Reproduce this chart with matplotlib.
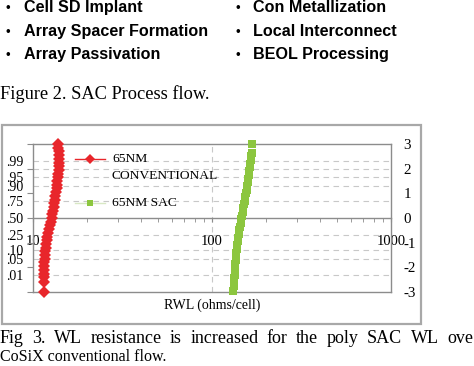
import matplotlib
matplotlib.use("Agg")
import matplotlib.pyplot as plt
from matplotlib.patches import Rectangle
import matplotlib.ticker as mticker

W, H = 474, 366

# ---------------- data ----------------
bullets_left = ["Cell SD Implant", "Array Spacer Formation", "Array Passivation"]
bullets_right = ["Con Metallization", "Local Interconnect", "BEOL Processing"]
fig2_caption = "Figure 2. SAC Process flow."
fig3_words = ["Fig", "3.", "WL", "resistance", "is", "increased", "for", "the",
              "poly", "SAC", "WL", "ove"]
fig3_line2 = "CoSiX conventional flow."

conv_z = [-3.0, -2.6, -2.4, -2.25, -2.1, -1.95, -1.8, -1.65, -1.5, -1.35, -1.2, -1.05,
          -0.9, -0.75, -0.6, -0.45, -0.3, -0.15, 0.0, 0.15, 0.3, 0.45, 0.6, 0.75, 0.9,
          1.05, 1.2, 1.35, 1.5, 1.65, 1.8, 1.95, 2.1, 2.25, 2.4, 2.55, 2.7, 2.85, 3.0]
conv_r = [11.55, 11.5, 11.45, 11.45, 11.5, 11.5, 11.55, 11.6, 11.65, 11.7, 11.8, 11.85,
          11.95, 12.0, 12.1, 12.25, 12.4, 12.55, 12.7, 12.85, 12.95, 13.05, 13.15, 13.25,
          13.35, 13.45, 13.55, 13.6, 13.7, 13.75, 13.85, 13.9, 13.95, 13.95, 13.95, 13.9,
          13.9, 13.85, 13.85]

sac_z = [-2.95, -2.75, -2.6, -2.45, -2.3, -2.15, -2.0, -1.85, -1.7, -1.55, -1.4, -1.25,
         -1.1, -0.95, -0.8, -0.65, -0.5, -0.35, -0.2, -0.05, 0.1, 0.25, 0.4, 0.55, 0.7,
         0.85, 1.0, 1.15, 1.3, 1.45, 1.6, 1.75, 1.9, 2.05, 2.2, 2.35, 2.5, 2.65, 3.0]
sac_r = [131.5, 132.2, 132.7, 133.2, 133.6, 134.0, 134.5, 135.0, 135.4, 135.9, 136.6,
         137.4, 138.2, 139.2, 140.3, 141.3, 142.3, 143.5, 144.8, 146.0, 147.3, 148.5,
         149.7, 151.0, 152.2, 153.4, 154.6, 155.9, 157.1, 158.3, 159.5, 160.6, 161.7,
         162.8, 163.8, 164.7, 165.5, 166.3, 168.0]

series_labels = ["65NM\nCONVENTIONAL", "65NM SAC"]

z_ticks = [-3, -2, -1, 0, 1, 2, 3]
z_ticklabels = ["-3", "-2", "-1", "0", "1", "2", "3"]
prob_labels = [".99", ".95", ".90", ".75", ".50", ".25", ".10", ".05", ".01"]
prob_z = [2.326, 1.645, 1.282, 0.674, 0.0, -0.674, -1.282, -1.645, -2.326]
grid_z = [2.326, 2.0, 1.645, 1.282, 0.674, -0.674, -1.282, -1.645, -2.326]
x_ticks = [10, 100, 1000]
x_ticklabels = ["10", "100", "1000"]
x_label = "RWL (ohms/cell)"

# ---------------- figure ----------------
fig = plt.figure(figsize=(W / 100, H / 100), dpi=100)
fig.patch.set_facecolor("white")


def fx(x):
    return x / W


def fy(y):
    return 1 - y / H


SANS = ["Liberation Sans", "DejaVu Sans"]
SERIF = ["Liberation Serif", "DejaVu Serif"]

# bullet text
rows_y = [12, 36, 59]
for i, (l, r) in enumerate(zip(bullets_left, bullets_right)):
    y = rows_y[i]
    fig.text(fx(8), fy(y), "\u2022", fontsize=9.5, family=SANS, ha="center", va="baseline")
    fig.text(fx(24), fy(y), l, fontsize=11.6, family=SANS, weight="bold", va="baseline")
    fig.text(fx(238), fy(y), "\u2022", fontsize=9.5, family=SANS, ha="center", va="baseline")
    fig.text(fx(253), fy(y), r, fontsize=11.6, family=SANS, weight="bold", va="baseline")

fig.text(fx(0), fy(99), fig2_caption, fontsize=13.2, family=SERIF, va="baseline")

# outer chart box
fig.patches.append(Rectangle((fx(2), fy(324)), fx(419), 199 / H, transform=fig.transFigure,
                             facecolor="white", edgecolor="#a8a8a8", lw=1.6, zorder=0))

# caption under chart: justified first line
renderer = fig.canvas.get_renderer()
word_texts = [fig.text(0, fy(343), wd, fontsize=13, family=SERIF, va="baseline")
              for wd in fig3_words]
widths = [t.get_window_extent(renderer).width for t in word_texts]
gap = (W - 1 - sum(widths)) / (len(widths) - 1)
xpos = 0.0
for t, wdt in zip(word_texts, widths):
    t.set_x(fx(xpos))
    xpos += wdt + gap
fig.text(fx(0), fy(361), fig3_line2, fontsize=11.5, family=SERIF, va="baseline")

# ---------------- axes ----------------
ax = fig.add_axes([fx(33), fy(292), (391 - 33) / W, (292 - 144) / H])
ax.set_xscale("log")
ax.set_xlim(10, 1000)
ax.set_ylim(-3, 3)
ax.patch.set_visible(False)

spine_c = "#8c8c8c"
grid_c = "#c8c8c8"
for s in ax.spines.values():
    s.set_color(spine_c)
    s.set_linewidth(1.0)
ax.spines["bottom"].set_position(("data", 0))
ax.plot([0, 1], [0, 0], transform=ax.transAxes, color=spine_c, lw=1.0, clip_on=False, zorder=3)

for z in grid_z:
    ax.axhline(z, color=grid_c, lw=0.8, ls=(0, (5, 4)), zorder=0)
ax.axvline(100, color=grid_c, lw=0.8, ls=(0, (5, 4)), zorder=0)

ax.set_xticks(x_ticks)
ax.set_xticklabels(x_ticklabels, family=SERIF, fontsize=10.5)
ax.xaxis.set_minor_locator(mticker.LogLocator(base=10, subs=range(2, 10)))
ax.xaxis.set_minor_formatter(mticker.NullFormatter())
ax.tick_params(axis="x", which="both", direction="out", length=3, color=spine_c, pad=9)

ax.set_yticks(z_ticks)
ax.set_yticklabels([])
ax.tick_params(axis="y", direction="out", length=4, color=spine_c, left=True, right=False)

# data
ax.plot(conv_r, conv_z, color="#e8262b", lw=1, marker="D", markersize=6.6,
        markeredgewidth=0, zorder=5, clip_on=False)
ax.plot(sac_r, sac_z, color="#8cc63f", lw=0, marker="s", markersize=5.4,
        markeredgewidth=0, zorder=5, clip_on=False)

# probability labels (left)
axp = ax.twinx()
axp.set_ylim(-3, 3)
axp.yaxis.tick_left()
axp.set_yticks(prob_z)
axp.set_yticklabels(prob_labels, family=SERIF, fontsize=10)
axp.tick_params(axis="y", length=0, pad=7)
for s in axp.spines.values():
    s.set_visible(False)

# z labels (right)
axr = ax.twinx()
axr.set_ylim(-3, 3)
axr.set_yticks(z_ticks)
axr.set_yticklabels(z_ticklabels, family=SERIF, fontsize=10.8)
axr.tick_params(axis="y", length=0, pad=9)
for s in axr.spines.values():
    s.set_visible(False)

axp.set_zorder(2)
axr.set_zorder(2)
ax.set_zorder(3)

# legend (manual)
lx0, lx1, lxm, ltx = (75 - 33) / 358, (105 - 33) / 358, (90 - 33) / 358, (112 - 33) / 358
ly1, ly1b, ly2 = (292 - 159) / 148, (292 - 176) / 148, (292 - 203) / 148
ax.plot([lx0, lx1], [ly1, ly1], transform=ax.transAxes, color="#e8262b", lw=1, zorder=6)
ax.plot([lxm], [ly1], transform=ax.transAxes, color="#e8262b", marker="D", markersize=5,
        markeredgewidth=0, zorder=6)
ax.text(ltx, ly1, series_labels[0].split("\n")[0], transform=ax.transAxes, family=SERIF,
        fontsize=9.7, va="center", ha="left")
ax.text(ltx, ly1b, series_labels[0].split("\n")[1], transform=ax.transAxes, family=SERIF,
        fontsize=9.7, va="center", ha="left")
ax.plot([lx0, lx1], [ly2, ly2], transform=ax.transAxes, color="#d8e8c4", lw=1, zorder=6)
ax.plot([lxm], [ly2], transform=ax.transAxes, color="#8cc63f", marker="s", markersize=5,
        markeredgewidth=0, zorder=6)
ax.text(ltx, ly2, series_labels[1], transform=ax.transAxes, family=SERIF,
        fontsize=9.7, va="center", ha="left")

fig.text(fx(212), fy(305), x_label, family=SERIF, fontsize=10, ha="center", va="center")

fig.savefig("out.png", dpi=100)
